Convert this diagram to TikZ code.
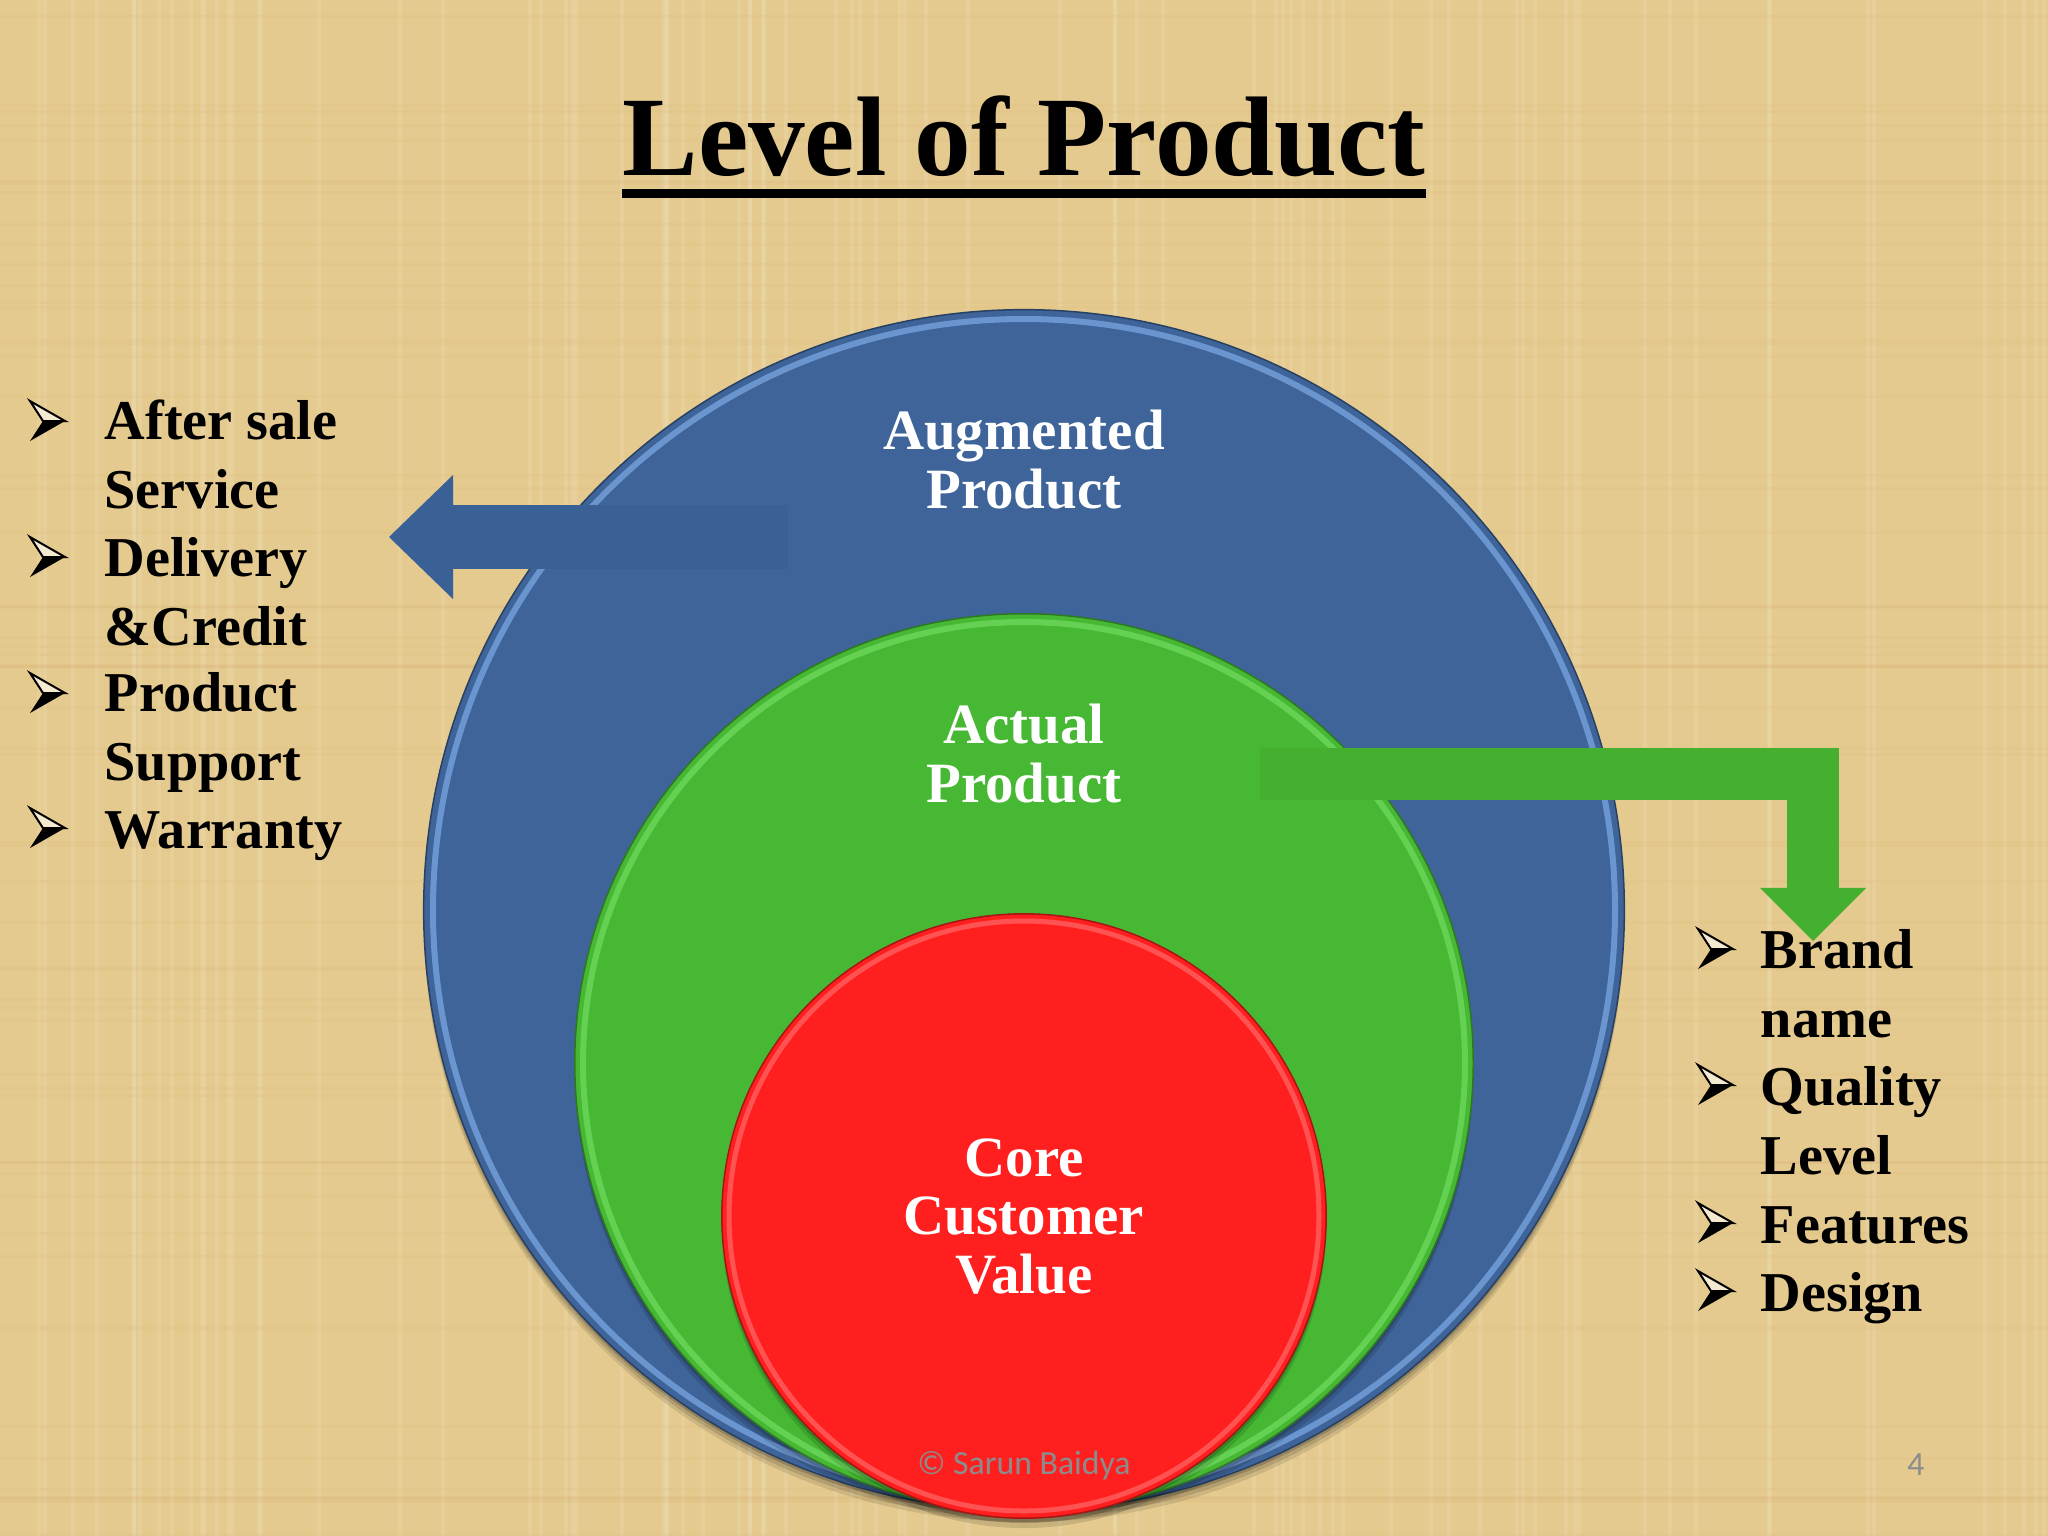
\documentclass[tikz,border=0pt]{standalone}
\usepackage{fontspec}
\setmainfont{Liberation Serif}
\newfontfamily\footfont{Carlito}
\usetikzlibrary{arrows.meta,positioning}
\definecolor{paper}{HTML}{E4CA8E}
\definecolor{augblue}{HTML}{3E6499}
\definecolor{augrim}{HTML}{7AA6E0}
\definecolor{arrblue}{HTML}{3A6196}
\definecolor{actgreen}{HTML}{46B834}
\definecolor{actrim}{HTML}{6CD85A}
\definecolor{arrgreen}{HTML}{45B030}
\definecolor{corered}{HTML}{FF1F1F}
\definecolor{corerim}{HTML}{FF6A6A}
\definecolor{footgray}{HTML}{8C8C8C}

\tikzset{
    lstmark/.pic={
        \filldraw[fill=white!60!paper, line width=0.02cm, line join=miter] (0,-40) -- (35,-20) -- (13,-20) -- cycle;
        \fill[black] (13,-20) -- (35,-20) -- (0,0) -- cycle;
    }
}

\begin{document}
\begin{tikzpicture}[x=0.01cm, y=-0.01cm,
    lvl/.style={circle, inner sep=0pt, minimum size=#1},
    lbl/.style={text=white, font=\fontsize{16.2}{16.6}\selectfont\bfseries, align=center, anchor=base, inner sep=0pt},
    itm/.style={font=\fontsize{16}{19.35}\selectfont\bfseries, align=left, anchor=base west, inner sep=0pt},
    foot/.style={text=footgray, font=\footfont\fontsize{9.6}{11}\selectfont, inner sep=0pt}]
    \useasboundingbox (0,0) rectangle (2048,1536);

    % --- paper background ---
    \fill[paper] (0,0) rectangle (2048,1536);
    \pgfmathsetseed{42}
    \foreach \i in {1,...,80}{
        \pgfmathsetmacro{\xa}{random(0,2048)}
        \draw[white, opacity=0.10, line width=0.04cm] (\xa,0) -- (\xa,1536);
    }
    \foreach \i in {1,...,60}{
        \pgfmathsetmacro{\ya}{random(0,1536)}
        \draw[brown, opacity=0.05, line width=0.03cm] (0,\ya) -- (2048,\ya);
    }

    % --- title ---
    \node[anchor=base, inner sep=0pt, font=\fontsize{32.2}{38}\selectfont\bfseries] (title) at (1024,175) {Level of Product};
    \draw[line width=0.09cm] ([yshift=-0.18cm]title.base west) -- ([yshift=-0.18cm]title.base east);

    % --- Augmented product ---
    \foreach \o/\op in {12/0.10, 8/0.12, 4/0.18}
        \fill[black, opacity=\op] (1024,910+\o) circle[radius=600];
    \node[lvl=12cm, fill=augblue, draw=augblue!65!black, line width=0.015cm] (aug) at (1024,910) {};
    \draw[augrim, line width=0.06cm, opacity=0.75] (aug.center) circle[radius=591];
    \node[lbl] (augtxt) at (1024,508) {Augmented\\Product};

    % Arrow to the left
    \coordinate (augtail) at (788,537);
    \coordinate (augtip) at (389,537);
    \draw[arrblue, line width=0.64cm, -{Triangle[length=0.64cm, width=1.24cm, line width=0pt]}] (augtail) -- (augtip);

    % --- Actual product ---
    \foreach \o/\op in {10/0.12, 5/0.18}
        \fill[black, opacity=\op] (1024,1063+\o) circle[radius=449];
    \node[lvl=8.98cm, fill=actgreen, draw=actgreen!65!black, line width=0.015cm] (act) at (1024,1063) {};
    \draw[actrim, line width=0.06cm, opacity=0.8] (act.center) circle[radius=441];
    \node[lbl] (acttxt) at (1024,802) {Actual\\Product};

    % Arrow to the right, bent down
    \coordinate (acttail) at (1260,774);
    \coordinate (acttip) at (1813,941);
    \draw[arrgreen, line width=0.52cm, -{Triangle[length=0.53cm, width=1.06cm, line width=0pt]}] (acttail) -| (acttip);

    % --- Core customer value ---
    \foreach \o/\op in {10/0.12, 5/0.18}
        \fill[black, opacity=\op] (1024,1216+\o) circle[radius=302];
    \node[lvl=6.04cm, fill=corered, draw=corered!65!black, line width=0.015cm] (core) at (1024,1216) {};
    \draw[corerim, line width=0.05cm, opacity=0.7] (core.center) circle[radius=295];
    \node[lbl] (coretxt) at (1024,1293) {Core\\Customer\\Value};

    % --- left list ---
    \pic (b1) at (30,441) {lstmark};
    \node[itm] (svc) at (104,508) {After sale\\Service};
    \pic (b2) at (30,577) {lstmark};
    \node[itm] (dlv) at (104,645) {Delivery\\\&Credit};
    \pic (b3) at (30,713) {lstmark};
    \node[itm] (sup) at (104,780) {Product\\Support};
    \pic (b4) at (30,848) {lstmark};
    \node[itm] (wty) at (104,848) {Warranty};

    % --- right list ---
    \pic (b5) at (1698,969) {lstmark};
    \node[itm] (brd) at (1760,1037) {Brand\\name};
    \pic (b6) at (1698,1105) {lstmark};
    \node[itm] (qlt) at (1760,1174) {Quality\\Level};
    \pic (b7) at (1698,1243) {lstmark};
    \node[itm] (ftr) at (1760,1243) {Features};
    \pic (b8) at (1698,1311) {lstmark};
    \node[itm] (dsg) at (1760,1311) {Design};

    % --- footer ---
    \node[foot] (credit) at (1024,1465) {© Sarun Baidya};
    \node[foot] (pageno) at (1916,1465) {4};
\end{tikzpicture}
\end{document}
